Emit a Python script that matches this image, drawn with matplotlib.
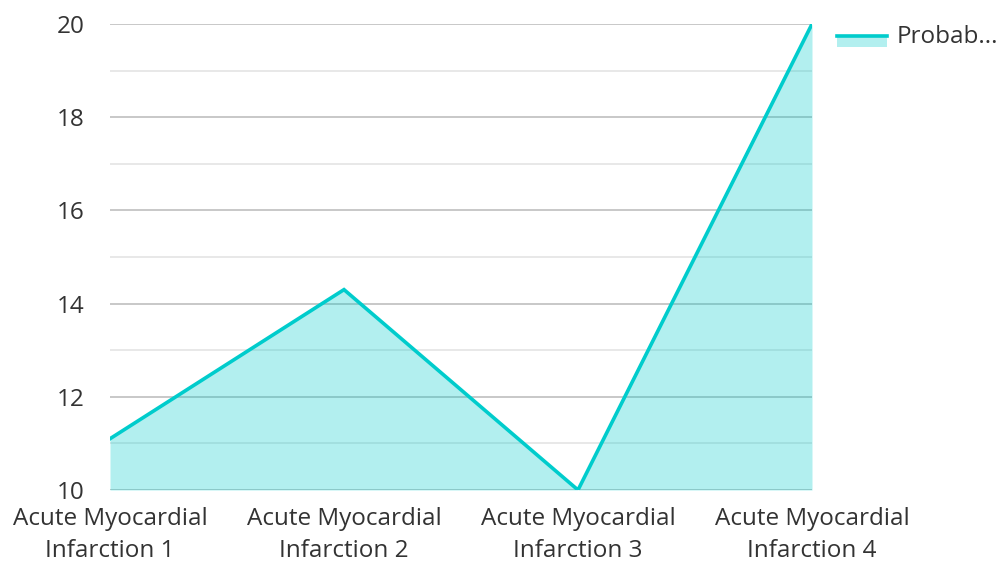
import matplotlib.pyplot as plt
from matplotlib.lines import Line2D
from matplotlib.patches import Rectangle

plt.rcParams['font.family'] = ['Open Sans', 'DejaVu Sans']

categories = ['Acute Myocardial\nInfarction 1', 'Acute Myocardial\nInfarction 2',
              'Acute Myocardial\nInfarction 3', 'Acute Myocardial\nInfarction 4']
values = [11.1, 14.3, 10.0, 20.0]
series_name = 'Probab...'

line_color = '#00cccc'
fill_color = '#00cccc'

fig = plt.figure(figsize=(10.02, 5.62), dpi=100)
ax = fig.add_axes([110 / 1002, 72 / 562, 702 / 1002, 466 / 562])

x = list(range(len(categories)))

# grid first, the translucent fill sits on it
for v in range(10, 21):
    c = '#c4c4c4' if v % 2 == 0 else '#e6e6e6'
    ax.axhline(v, color=c, linewidth=1.3, zorder=1)

ax.fill_between(x, values, 10, color=fill_color, alpha=0.3, linewidth=0, zorder=2)
ax.plot(x, values, color=line_color, linewidth=2.6, zorder=3, solid_joinstyle='miter')

ax.set_xlim(0, len(categories) - 1)
ax.set_ylim(10, 20)
ax.set_yticks(range(10, 21, 2))
ax.set_xticks(x)
ax.set_xticklabels(categories, linespacing=1.45)
ax.tick_params(length=0, labelsize=17.5, colors='#333333')
ax.tick_params(axis='y', pad=18.5)
ax.tick_params(axis='x', pad=12.5)
for s in ax.spines.values():
    s.set_visible(False)

# legend drawn by hand in figure pixels
fig.patches.append(Rectangle((837 / 1002, (562 - 47) / 562), 50 / 1002, 12 / 562,
                             transform=fig.transFigure, color=fill_color, alpha=0.3,
                             linewidth=0))
fig.lines.append(Line2D([837 / 1002, 887 / 1002], [(562 - 36) / 562] * 2,
                        transform=fig.transFigure, color=line_color, linewidth=2.6))
fig.text(897 / 1002, (562 - 37) / 562, series_name, fontsize=17.5, color='#333333',
         va='center', ha='left')

fig.savefig('out.png', dpi=100)
